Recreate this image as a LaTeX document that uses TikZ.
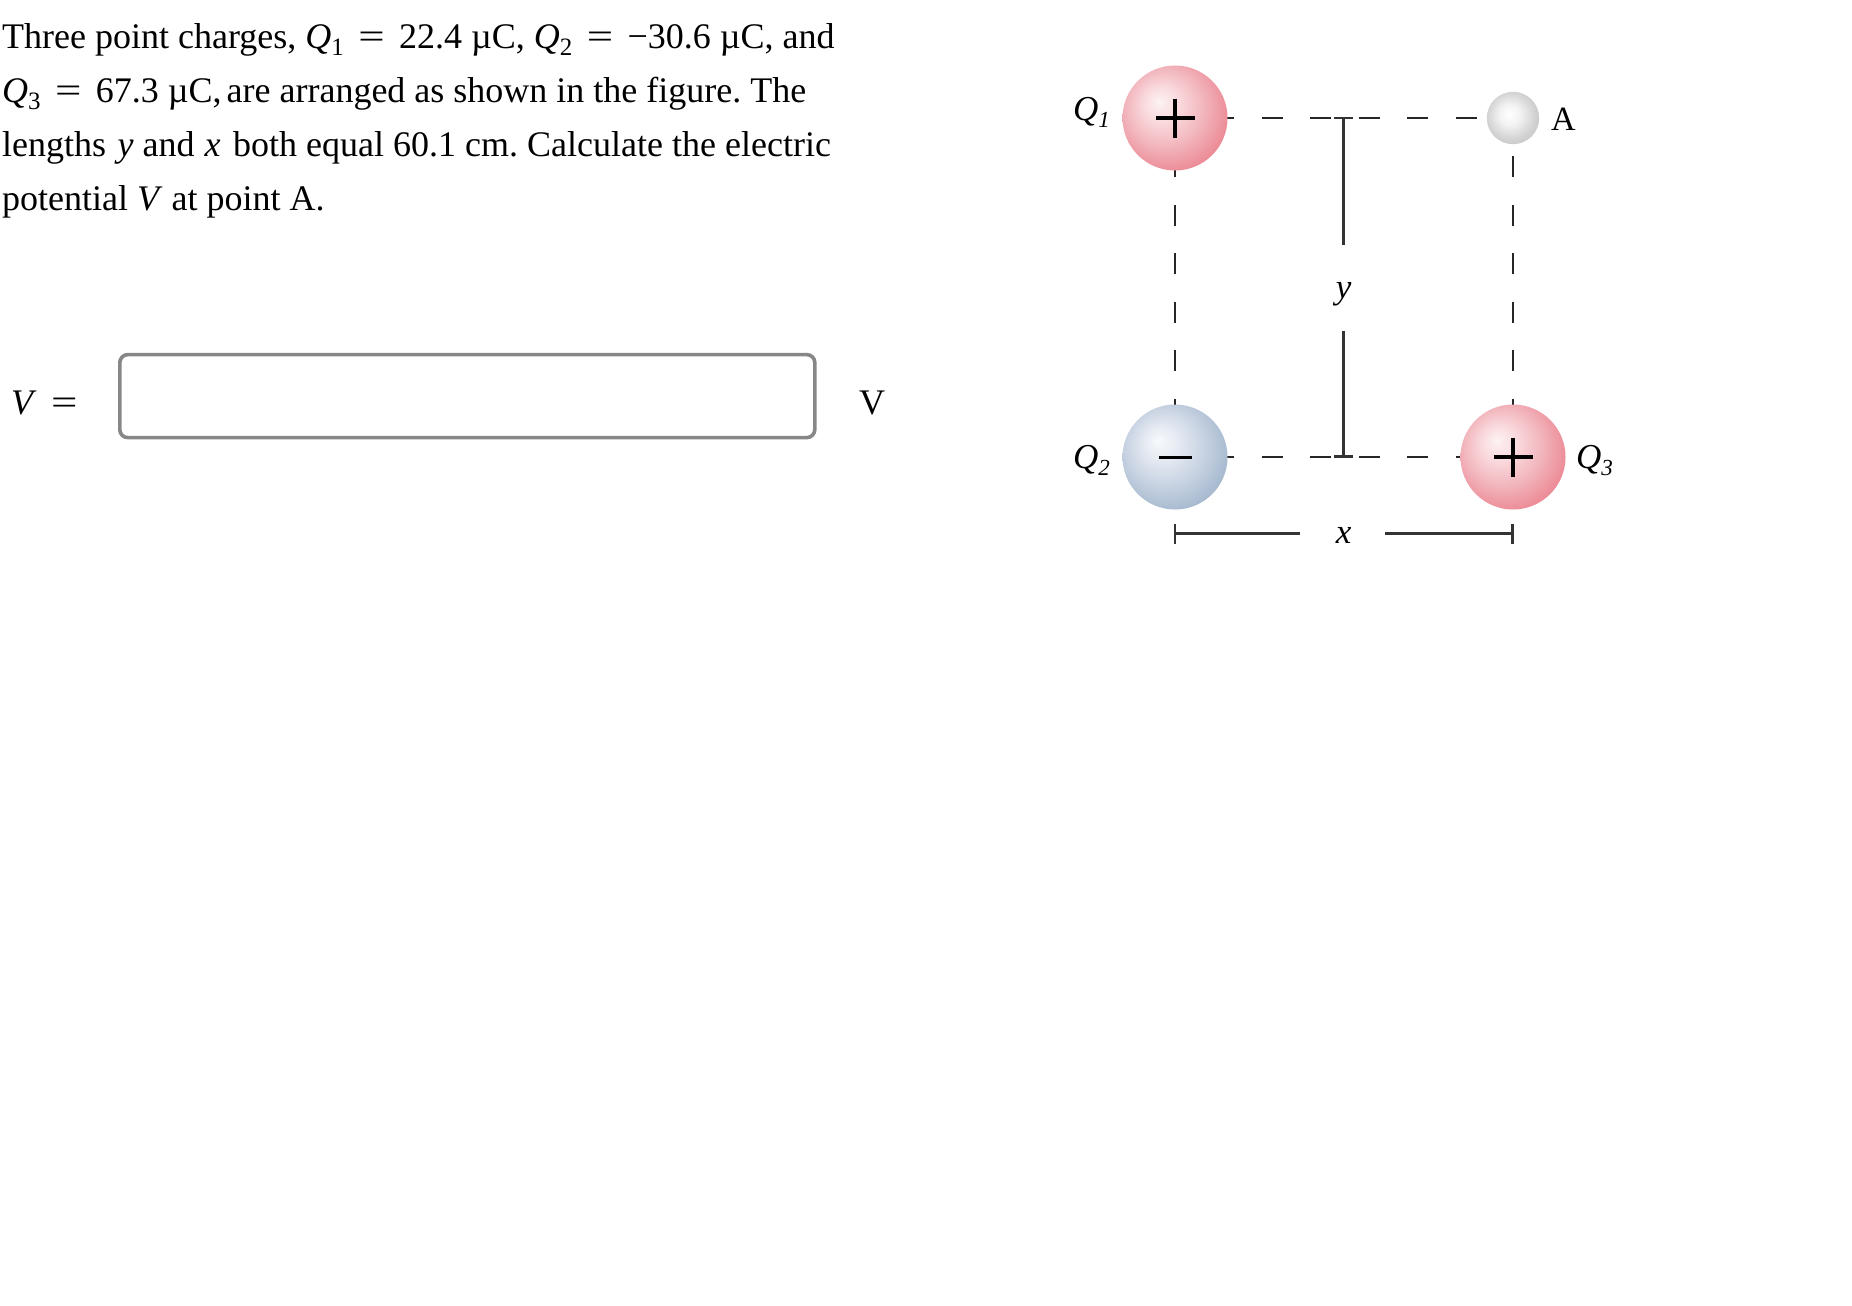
\documentclass[tikz,border=0pt]{standalone}
\usepackage{fontspec}
\usepackage{graphicx}
\setmainfont{Liberation Serif}
\usetikzlibrary{arrows.meta}
\pgfdeclareradialshading{redball}{\pgfpoint{-7.9bp}{7.9bp}}{rgb(0bp)=(0.99,0.95,0.95);rgb(8bp)=(0.98,0.86,0.87);rgb(18bp)=(0.95,0.72,0.75);rgb(27bp)=(0.93,0.58,0.62);rgb(36bp)=(0.91,0.43,0.48);rgb(50bp)=(0.91,0.43,0.48)}
\pgfdeclareradialshading{blueball}{\pgfpoint{-7.9bp}{7.9bp}}{rgb(0bp)=(0.97,0.98,0.99);rgb(8bp)=(0.90,0.92,0.95);rgb(18bp)=(0.79,0.83,0.89);rgb(27bp)=(0.68,0.75,0.83);rgb(36bp)=(0.56,0.64,0.75);rgb(50bp)=(0.56,0.64,0.75)}
\pgfdeclareradialshading{greyball}{\pgfpoint{-4bp}{4bp}}{rgb(0bp)=(1,1,1);rgb(10bp)=(0.95,0.95,0.95);rgb(22bp)=(0.83,0.83,0.83);rgb(29bp)=(0.78,0.78,0.78);rgb(50bp)=(0.78,0.78,0.78)}
\newcommand{\fs}[1]{\fontsize{#1}{#1}\selectfont}
\newcommand{\Qsub}[1]{\textit{Q}\raisebox{-0.22em}{\fs{25}#1}}
\newcommand{\eqsign}{\hspace{0.15em}\scalebox{1.3}[1]{=}\hspace{0.15em}}
\begin{document}
\begin{tikzpicture}[x=1pt,y=-1pt,
    charge/.style={circle,minimum size=105pt,inner sep=0pt},
    dashline/.style={line width=1.5pt,draw=black!85,dash pattern=on 21pt off 27.5pt,dash phase=10.5pt},
    dimline/.style={line width=2.6pt,draw=black!80},
    figlabel/.style={inner sep=0pt,font=\fs{34}},
    qlabel/.style={inner sep=0pt,font=\fs{35}\itshape},
    sign/.style={line width=4.8pt,draw=black}]
  \useasboundingbox (0,0) rectangle (1852,1306);
  \node[anchor=base west,inner sep=0pt,align=left,font=\fs{36}\frenchspacing] (question) at (2,210)
    {Three point charges, \Qsub{1} \eqsign{} 22.4 µC, \Qsub{2} \eqsign{} −30.6 µC, and\\[18pt]
     \Qsub{3} \eqsign{} 67.3 µC,\hspace{-4pt} are arranged as shown in the figure. The\\[18pt]
     lengths\hspace{2.5pt} \textit{y} and\hspace{1pt} \textit{x}\hspace{3.5pt} both equal 60.1 cm. Calculate the electric\\[18pt]
     potential \textit{V} at point A.};
  \node[anchor=base west,inner sep=0pt,font=\fs{36}] (lhs) at (11,414) {\textit{V} \eqsign};
  \node[draw=black!47,line width=3.6pt,rounded corners=8pt,minimum width=695pt,minimum height=83pt,anchor=north west] (answer) at (118,352.8) {};
  \node[anchor=base west,inner sep=0pt,font=\fs{36}] (unit) at (859,414) {V};
  \coordinate (c1) at (1175,118);
  \coordinate (c2) at (1175,457);
  \coordinate (c3) at (1513,457);
  \coordinate (cA) at (1513,118);
  \draw[dashline] (c1) -- (cA);
  \draw[dashline] (c1) -- (c2);
  \draw[dashline] (c2) -- (c3);
  \draw[dashline] (cA) -- (c3);
  \node[charge,shading=redball] (Q1) at (c1) {};
  \node[charge,shading=blueball] (Q2) at (c2) {};
  \node[charge,shading=redball] (Q3) at (c3) {};
  \node[circle,minimum size=52.4pt,inner sep=0pt,shading=greyball] (A) at (cA) {};
  \draw[sign] (1155.5,118) -- (1194.5,118);
  \draw[sign] (1175,98.5) -- (1175,137.5);
  \draw[sign,line width=3.6pt] (1158.5,457.5) -- (1191.5,457.5);
  \draw[sign] (1493.5,457) -- (1532.5,457);
  \draw[sign] (1513,437.5) -- (1513,476.5);
  \node[figlabel,anchor=west] (labelA) at (1551,119) {A};
  \node[qlabel,anchor=base west] (labelQ1) at (1073,120) {Q\raisebox{-0.22em}{\fs{23}1}};
  \node[qlabel,anchor=base west] (labelQ2) at (1073,468) {Q\raisebox{-0.22em}{\fs{23}2}};
  \node[qlabel,anchor=base west] (labelQ3) at (1576,468) {Q\raisebox{-0.22em}{\fs{23}3}};
  \coordinate (ytop) at (1343.5,116.5);
  \coordinate (ybot) at (1343.5,458);
  \coordinate (xleft) at (1173.5,533.5);
  \coordinate (xright) at (1514,533.5);
  \node[qlabel] (ylabel) at (1343.5,294) {y};
  \node[qlabel] (xlabel) at (1343.5,535) {x};
  \coordinate (yup) at (1343.5,245);
  \coordinate (ydown) at (1343.5,331);
  \coordinate (xin) at (1300,533.5);
  \coordinate (xout) at (1385,533.5);
  \draw[dimline,{Bar[width=19pt,line width=2.8pt]}-] (ytop) -- (yup);
  \draw[dimline,-{Bar[width=19pt,line width=2.8pt]}] (ydown) -- (ybot);
  \draw[dimline,{Bar[width=20pt,line width=2.8pt]}-] (xleft) -- (xin);
  \draw[dimline,-{Bar[width=20pt,line width=2.8pt]}] (xout) -- (xright);
\end{tikzpicture}
\end{document}
